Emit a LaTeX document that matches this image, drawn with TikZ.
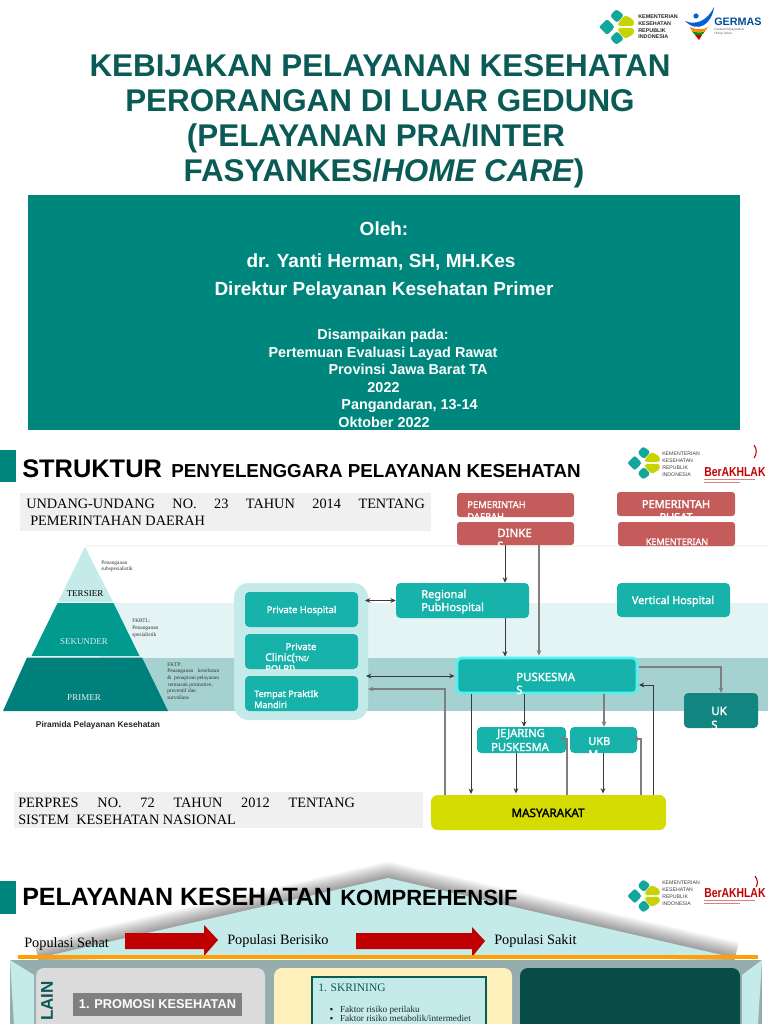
\documentclass[tikz,border=0pt]{standalone}
\usepackage{fontspec}
\setmainfont{Liberation Sans}
\newfontfamily\serifF{Liberation Serif}
\newfontfamily\dv[AutoFakeBold=1.8]{Noto Sans}
\usetikzlibrary{arrows.meta,calc}
\definecolor{tealmain}{HTML}{00877D}
\definecolor{titleteal}{HTML}{0A5A55}
\definecolor{boxteal}{HTML}{17B3AA}
\definecolor{darkbox}{HTML}{128580}
\definecolor{palecyan}{HTML}{C4EAEA}
\definecolor{bandlight}{HTML}{E4F3F3}
\definecolor{banddark}{HTML}{A6D1D1}
\definecolor{redbox}{HTML}{C45C5C}
\definecolor{lime}{HTML}{D4DC00}
\definecolor{greybox}{HTML}{F0F0F0}
\definecolor{lnk}{HTML}{3A3A3A}
\definecolor{arrowred}{HTML}{C00000}
\definecolor{leafy}{HTML}{C8D400}
\definecolor{logoteal}{HTML}{12A79D}
\definecolor{gapgrey}{HTML}{96ADAD}
\definecolor{pyrmid}{HTML}{009A8E}
\definecolor{pyrlow}{HTML}{00807C}
\definecolor{cyanring}{HTML}{55F0F0}
\newcommand{\fs}[1]{\fontsize{\fpeval{0.75*#1}pt}{\fpeval{0.9*#1}pt}\selectfont}
\newcommand{\boxn}[6]{\node[#6,minimum width={(#4-#2)*0.75pt},minimum height={(#5-#3)*0.75pt}] (#1) at ({(#2+#4)/2},{(#3+#5)/2}) {};}
\newcommand{\kemlogo}[3]{%
\begin{scope}[shift={(#1,#2)},scale=#3]
\fill[logoteal,rounded corners=1.5] (-18,0) -- (-10,-8) -- (-3,-1) -- (-3,1) -- (-10,8) -- cycle;
\fill[logoteal,rounded corners=2] (-7,-11) -- (-1,-18) -- (7,-12) -- (0,-4) -- cycle;
\fill[logoteal,rounded corners=2] (-7,11) -- (-1,18) -- (7,12) -- (0,4) -- cycle;
\fill[leafy,rounded corners=2] (1,-1) -- (1,-4) -- (8,-12) -- (17,-7) -- (17,-1) -- cycle;
\fill[leafy,rounded corners=2] (1,1) -- (1,4) -- (8,12) -- (17,7) -- (17,1) -- cycle;
\end{scope}}
\newcommand{\akhl}{\scalebox{.8}[1]{BerAKHLAK}}
\tikzset{
 box/.style={draw=none,fill=boxteal,rounded corners=3.2pt,inner sep=0},
 redb/.style={box,fill=redbox,rounded corners=2.2pt},
 wtxt/.style={inner sep=0,anchor=base west,text=white},
 wctr/.style={inner sep=0,anchor=base,text=white},
 serif/.style={inner sep=0,anchor=base west,text=black,font=\serifF\fs{14.3}},
 tiny/.style={inner sep=0,anchor=base west,text=black!80,font=\serifF\fs{5.4}},
 link/.style={draw=lnk,line width=.75pt,-{Stealth[length=4pt,width=3.6pt]}},
 both/.style={draw=lnk,line width=.75pt,{Stealth[length=4pt,width=3.6pt]}-{Stealth[length=4pt,width=3.6pt]}},
 linkg/.style={link,draw=lnk!65,line width=1pt},
 hdg/.style={inner sep=0,anchor=base west,text=black,font=\bfseries\fs{25.4}},
 hdgs/.style={inner sep=0,anchor=base west,text=black,font=\bfseries\fs{18.8}},
 logot/.style={inner sep=0,anchor=base west,text=black!75,font=\fs{5.2}},
 akh/.style={inner sep=0,anchor=base west,text=arrowred,font=\bfseries\fs{13}},
 titl/.style={inner sep=0,anchor=base,text=titleteal,font=\bfseries\fs{31.4}},
}
\begin{document}
\begin{tikzpicture}[x=0.75pt,y=-0.75pt]
\useasboundingbox (0,0) rectangle (768,1024);
\fill[white] (0,0) rectangle (768,1024);

% ---------- slide 1
\kemlogo{617}{27}{1}
\node[logot,text=black!85,font=\bfseries\fs{5.4}] (k1a) at (638,19) {KEMENTERIAN};
\node[logot,text=black!85,font=\bfseries\fs{5.4}] (k1b) at (638,26) {KESEHATAN};
\node[logot,text=black!85,font=\bfseries\fs{5.4}] (k1c) at (638,32.5) {REPUBLIK};
\node[logot,text=black!85,font=\bfseries\fs{5.4}] (k1d) at (638,39) {INDONESIA};
% Germas figure
\fill[blue!55!cyan!85!black] (685,21) .. controls (696,26) and (708,20) .. (714,7) .. controls (712,24) and (698,34) .. (685,21) -- cycle;
\fill[blue!55!cyan!85!black] (696,16) circle (2.6);
\fill[orange!90!yellow] (690,27) .. controls (696,30) and (704,30) .. (708,27) -- (706,30) .. controls (702,33) and (696,33) .. (691,30) -- cycle;
\fill[green!60!black] (692,31) .. controls (697,33) and (702,33) .. (705,31) -- (703,34) .. controls (700,36) and (696,36) .. (694,34) -- cycle;
\fill[red!80!black] (695,35) -- (702,35) -- (699,40) -- cycle;
\node[inner sep=0,anchor=base west,text=blue!50!cyan!60!black,font=\bfseries\fs{10.8}] (germas) at (714,26) {GERMAS};
\node[inner sep=0,anchor=base west,text=black!60,font=\fs{3.2}] (g2) at (714,30.5) {Gerakan Masyarakat};
\node[inner sep=0,anchor=base west,text=black!60,font=\fs{3.2}] (g3) at (714,34.5) {Hidup Sehat};

\node[titl] (t1) at (380,76) {KEBIJAKAN PELAYANAN KESEHATAN};
\node[titl] (t2) at (380,111) {PERORANGAN DI LUAR GEDUNG};
\node[titl] (t3) at (376,146) {(PELAYANAN PRA/INTER};
\node[titl] (t4) at (384,181) {FASYANKES/\textit{HOME CARE})};

\fill[tealmain] (28,195) rectangle (740,430);
\node[wctr,font=\bfseries\fs{19}] (o1) at (384,235) {Oleh:};
\node[wctr,font=\bfseries\fs{19}] (o2) at (381,267) {dr. Yanti Herman, SH, MH.Kes};
\node[wctr,font=\bfseries\fs{19}] (o3) at (384,295) {Direktur Pelayanan Kesehatan Primer};
\node[wctr,font=\bfseries\fs{14.4}] (o4) at (383,339) {Disampaikan pada:};
\node[wctr,font=\bfseries\fs{14.4}] (o5) at (383,357) {Pertemuan Evaluasi Layad Rawat};
\node[wctr,font=\bfseries\fs{14.4}] (o6) at (408,374) {Provinsi Jawa Barat TA};
\node[wctr,font=\bfseries\fs{14.4}] (o7) at (383.5,392) {2022};
\node[wctr,font=\bfseries\fs{14.4}] (o8) at (409.5,409) {Pangandaran, 13-14};
\node[wctr,font=\bfseries\fs{14.4}] (o9) at (384,427) {Oktober 2022};

% ---------- slide 2
\fill[tealmain] (0,450) rectangle (16,482);
\node[hdg] (h1) at (22,477) {STRUKTUR};
\node[hdgs] (h2) at (171,477) {PENYELENGGARA PELAYANAN KESEHATAN};
\kemlogo{644}{463}{0.93}
\node[logot] (k2a) at (662,455) {KEMENTERIAN};
\node[logot] (k2b) at (662,462) {KESEHATAN};
\node[logot] (k2c) at (662,469) {REPUBLIK};
\node[logot] (k2d) at (662,476) {INDONESIA};
\node[akh] (a2) at (704,476) {\akhl};
\draw[arrowred,line width=.8pt] (754,445) .. controls (757,449) and (757,454) .. (754,458);
\draw[arrowred!50,line width=.5pt] (704,479.5) -- (755,479.5) (704,482.5) -- (740,482.5);

\fill[greybox] (20,493) rectangle (431,531);
\fill[greybox] (14,792) rectangle (423,828);
\node[serif] (u1) at (26,508) {\makebox[299pt][s]{UNDANG-UNDANG\hfil NO.\hfil 23\hfil TAHUN\hfil 2014\hfil TENTANG}};
\node[serif] (u2) at (30,525) {PEMERINTAHAN DAERAH};
\node[serif] (p1) at (18,807) {\makebox[252.5pt][s]{PERPRES\hfil NO.\hfil 72\hfil TAHUN\hfil 2012\hfil TENTANG}};
\node[serif] (p2) at (18,824) {SISTEM\ \ KESEHATAN NASIONAL};

% bands
\draw[black!4,line width=1pt] (85,546) -- (768,546);
\fill[bandlight] (100,603) rectangle (768,658);
\fill[banddark] (130,658) rectangle (768,711);

% pyramid
\fill[palecyan] (85,547) -- (113,602) -- (58,602) -- cycle;
\fill[pyrmid] (57.5,603) -- (113.5,603) -- (139.5,656) -- (31.5,656) -- cycle;
\fill[pyrlow] (27,657.5) -- (142,657.5) -- (168,711) -- (3,711) -- cycle;
\node[inner sep=0,anchor=base,text=black,font=\serifF\fs{9}] (tr) at (85,596) {TERSIER};
\node[inner sep=0,anchor=base,text=white!85!teal,font=\serifF\fs{9}] (sk) at (84,644) {SEKUNDER};
\node[inner sep=0,anchor=base,text=white!90!teal,font=\serifF\fs{9}] (pr) at (84,700) {PRIMER};
\node[tiny] (n1) at (101,564.5) {Penanganan};
\node[tiny] (n2) at (101,570.5) {subspesialistik};
\node[tiny] (n3) at (132,622) {FKRTL:};
\node[tiny] (n4) at (132,629) {Penanganan};
\node[tiny] (n5) at (132,636) {spesialistik};
\node[tiny] (n6) at (167,666) {FKTP:};
\node[tiny] (n7) at (167,672.5) {\makebox[39pt][s]{Penanganan\hfil kesehatan}};
\node[tiny] (n8) at (167,679.5) {\&\ \ penapisan pelayanan};
\node[tiny] (n9) at (168,686) {termasuk promotive,};
\node[tiny] (n10) at (167,692.5) {preventif dan};
\node[tiny] (n11) at (167,699) {surveilans};
\node[inner sep=0,anchor=base,text=black!85,font=\bfseries\fs{8.4}] (pk) at (98,727) {Piramida Pelayanan Kesehatan};

% container and boxes
\boxn{cont}{234}{583}{368}{720}{box,fill=palecyan,rounded corners=11pt}
\boxn{phosp}{245}{592}{358}{627}{box}
\boxn{pclin}{245}{634}{358}{669}{box}
\boxn{tpm}{245}{676}{358}{711}{box}
\boxn{reg}{396}{583}{529}{618}{box}
\boxn{vert}{617}{583}{730}{617}{box}
\boxn{pd}{457}{493}{574}{517}{redb}
\boxn{dinkes}{457}{522}{574}{545}{redb}
\boxn{pp}{617}{492}{735}{516}{redb}
\boxn{kem}{618}{522}{735}{546}{redb}
\boxn{pus}{457}{658}{637}{693}{box,draw=cyanring,line width=2pt}
\boxn{uks}{684}{693}{758}{728}{box,fill=darkbox}
\boxn{jej}{477}{727}{566}{753}{box}
\boxn{ukbm}{570}{727}{637}{753}{box}
\boxn{mas}{431}{795}{666}{830}{box,fill=lime,rounded corners=5pt}

\node[wctr,font=\dv\bfseries\fs{9.4}] (lph) at (301.5,613) {Private Hospital};
\node[wctr,font=\dv\bfseries\fs{9.4}] (lpc) at (301,650) {Private};
\begin{scope}
\clip (pclin.south west) rectangle (pclin.north east);
\node[wtxt,font=\dv\bfseries\fs{10.5}] (lpc2) at (265,661) {Clinic(\fs{7}TNI/};
\node[wtxt,font=\dv\bfseries\fs{9.4}] (lpc3) at (265,672) {POLRI)};
\end{scope}
\node[wtxt,font=\dv\bfseries\fs{9}] (lt1) at (254,697) {Tempat PraktIk};
\node[wtxt,font=\dv\bfseries\fs{9}] (lt2) at (254,708) {Mandiri};
\node[wtxt,font=\dv\bfseries\fs{11}] (lr1) at (421,598) {Regional};
\node[wtxt,font=\dv\bfseries\fs{11}] (lr2) at (421,611) {Publ};
\node[wtxt,font=\dv\bfseries\fs{11}] (lr3) at (441,611) {Hospital};
\node[wctr,font=\dv\bfseries\fs{10.8}] (lv) at (673,604) {Vertical Hospital};
\begin{scope}
\clip (pd.south west) rectangle (pd.north east);
\node[wtxt,font=\dv\bfseries\fs{9.4}] (lpd1) at (467,508) {PEMERINTAH};
\node[wtxt,font=\dv\bfseries\fs{9.4}] (lpd2) at (467,520) {DAERAH};
\end{scope}
\begin{scope}
\clip (dinkes.south west) rectangle (dinkes.north east);
\node[wtxt,font=\dv\bfseries\fs{11.5}] (ld1) at (497,537) {DINKE};
\node[wtxt,font=\dv\bfseries\fs{11.5}] (ld2) at (497,550) {S};
\end{scope}
\begin{scope}
\clip (pp.south west) rectangle (pp.north east);
\node[wctr,font=\dv\bfseries\fs{11}] (lp1) at (676,508) {PEMERINTAH};
\node[wctr,font=\dv\bfseries\fs{11}] (lp2) at (676,521) {PUSAT};
\end{scope}
\node[wctr,font=\dv\bfseries\fs{9.1}] (lk) at (677,545) {KEMENTERIAN};
\node[wtxt,font=\dv\bfseries\fs{11.4}] (lps1) at (516,681) {PUSKESMA};
\node[wtxt,font=\dv\bfseries\fs{11.4}] (lps2) at (516,694) {S};
\node[wtxt,font=\dv\bfseries\fs{11.5}] (lu1) at (711,715) {UK};
\node[wtxt,font=\dv\bfseries\fs{11.5}] (lu2) at (711,729) {S};
\node[wctr,font=\dv\bfseries\fs{11.2}] (lj1) at (521,737) {JEJARING};
\node[wctr,font=\dv\bfseries\fs{11.2}] (lj2) at (520,751) {PUSKESMA};
\begin{scope}
\clip (ukbm.south west) rectangle (ukbm.north east);
\node[wtxt,font=\dv\bfseries\fs{11}] (lk1) at (588,745) {UKB};
\node[wtxt,font=\dv\bfseries\fs{11}] (lk2) at (588,758) {M};
\end{scope}
\node[inner sep=0,anchor=base,text=black,font=\dv\bfseries\fs{11.7}] (lm) at (548,817) {MASYARAKAT};

% connectors
\draw[both] (365,0 |- reg.west) -- (reg.west);
\draw[link] (505,0 |- dinkes.south) -- (505,0 |- reg.north);
\draw[linkg] (539,0 |- dinkes.south) -- (539,655.5);
\draw[link] (505,0 |- reg.south) -- (505,656.5);
\draw[both] (366,676) -- (454.5,676);
\draw[linkg] (445,0 |- mas.north) -- (445,689) -- (368,689);
\draw[link] (471,0 |- pus.south) -- (471,794);
\draw[link] (524,0 |- pus.south) -- (524,0 |- jej.north);
\draw[linkg] (604,0 |- pus.south) -- (604,0 |- ukbm.north);
\draw[link] (516,0 |- jej.south) -- (516,793.5);
\draw[link] (603,0 |- ukbm.south) -- (603,793.5);
\draw[linkg] (567,0 |- mas.north) -- (567,739) -- (560,739);
\draw[linkg] (641,0 |- mas.north) -- (641,739) -- (633,739);
\draw[link] (653,0 |- mas.north) -- (653,685) -- (639,685);
\draw[linkg] (639,667) -- (721,667) -- (721,0 |- uks.north);

% ---------- slide 3
\foreach \w in {2,4,...,24}
 \draw[black,line width=\w pt,opacity=.035,line join=round] (38,958) -- (388,878) -- (735,958);
\fill[palecyan] (38,958) -- (388,878) -- (735,958) -- cycle;
\fill[tealmain] (0,881) rectangle (16,914);
\node[hdg,font=\bfseries\fs{25}] (h3) at (22,905) {PELAYANAN KESEHATAN};
\node[inner sep=0,anchor=base west,text=black,font=\bfseries\fs{22}] (h4) at (340,905) {KOMPREHENSIF};
\kemlogo{644}{896}{0.93}
\node[logot] (k3a) at (662,884) {KEMENTERIAN};
\node[logot] (k3b) at (662,891) {KESEHATAN};
\node[logot] (k3c) at (662,898) {REPUBLIK};
\node[logot] (k3d) at (662,905) {INDONESIA};
\node[akh] (a3) at (704,897) {\akhl};
\draw[arrowred,line width=.8pt] (755,876) .. controls (758,880) and (758,884) .. (756,887);
\draw[arrowred!50,line width=.5pt] (704,900.5) -- (755,900.5) (704,903.5) -- (740,903.5);

\fill[arrowred] (125,933) -- (204,933) -- (204,925) -- (218,940) -- (204,956) -- (204,949) -- (125,949) -- cycle;
\fill[arrowred] (356,933) -- (472,933) -- (472,927) -- (485,941) -- (472,957) -- (472,949) -- (356,949) -- cycle;
\node[serif] (s1) at (24,947) {Populasi Sehat};
\node[serif] (s2) at (227,944) {Populasi Berisiko};
\node[serif] (s3) at (494,944) {Populasi Sakit};

\fill[gapgrey] (10,960) rectangle (762,1024);
\fill[palecyan] (10,960) -- (34,975) -- (34,1024) -- (14,1024) -- cycle;
\fill[palecyan] (762,960) -- (742,975) -- (742,1024) -- (758,1024) -- cycle;
\fill[orange!75!yellow] (18,955) rectangle (758,959);

\fill[black!14,rounded corners=6pt] (36,968) rectangle (265,1040);
\fill[yellow!60!orange!25!white,rounded corners=6pt] (274,968) rectangle (512,1040);
\fill[titleteal!85!black,rounded corners=6pt] (520,968) rectangle (740,1040);
\node[inner sep=0,rotate=90,anchor=center,text=titleteal,font=\bfseries\fs{17}] (lain) at (47,1001) {LAIN};
\boxn{prom}{73}{993}{242}{1016}{inner sep=0,fill=black!50}
\node[inner sep=0,anchor=center,text=white,font=\bfseries\fs{12.8}] (lprom) at (prom.center) {1. PROMOSI KESEHATAN};
\fill[palecyan,draw=titleteal,line width=.8pt] (312,977) rectangle (486,1040);
\node[inner sep=0,anchor=base west,text=titleteal,font=\serifF\fs{11.5}] (sk1) at (318,991) {1.  SKRINING};
\node[inner sep=0,anchor=base west,text=black!85,font=\serifF\fs{9.2}] (b1) at (325,1012) {\ \ ▪\ \ \ Faktor risiko  perilaku};
\node[inner sep=0,anchor=base west,text=black!85,font=\serifF\fs{9.2}] (b2) at (325,1021.5) {\ \ ▪\ \ \ Faktor risiko metabolik/intermediet};
\end{tikzpicture}
\end{document}
